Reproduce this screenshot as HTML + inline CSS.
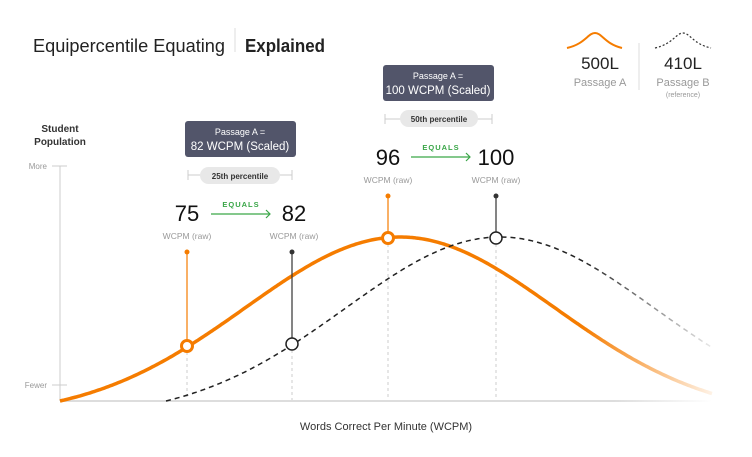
<!DOCTYPE html>
<html><head><meta charset="utf-8"><style>
html,body{margin:0;padding:0;background:#fff;}
svg{display:block;font-family:"Liberation Sans",sans-serif;}
</style></head><body>
<svg id="s" width="752" height="457" viewBox="0 0 752 457">
<defs>
<linearGradient id="og" x1="60" x2="712" gradientUnits="userSpaceOnUse">
<stop offset="0.8" stop-color="#f57c00"/><stop offset="1" stop-color="#f57c00" stop-opacity="0.1"/></linearGradient>
<linearGradient id="bg" x1="60" x2="712" gradientUnits="userSpaceOnUse">
<stop offset="0.8" stop-color="#222"/><stop offset="1" stop-color="#222" stop-opacity="0.1"/></linearGradient>
<linearGradient id="ag" x1="60" x2="712" gradientUnits="userSpaceOnUse">
<stop offset="0.85" stop-color="#ddd"/><stop offset="1" stop-color="#ddd" stop-opacity="0"/></linearGradient>
</defs>
<!-- title -->
<text x="33" y="52" font-size="18" fill="#222" textLength="192" lengthAdjust="spacingAndGlyphs">Equipercentile Equating</text>
<line x1="235" y1="28" x2="235" y2="52" stroke="#ddd"/>
<text x="245" y="52" font-size="18" font-weight="bold" fill="#222" textLength="80" lengthAdjust="spacingAndGlyphs">Explained</text>
<!-- legend -->
<path d="M567,48 C585,44 588,33 595,33 C602,33 605,44 622,48" fill="none" stroke="#f57c00" stroke-width="2"/>
<text x="600" y="69" font-size="17" text-anchor="middle" fill="#222">500L</text>
<text x="600" y="86" font-size="11" text-anchor="middle" fill="#999">Passage A</text>
<line x1="639" y1="43" x2="639" y2="90" stroke="#ddd"/>
<path d="M655,48 C673,44 676,33 683,33 C690,33 693,44 711,48" fill="none" stroke="#333" stroke-width="1.2" stroke-dasharray="2,2"/>
<text x="683" y="69" font-size="17" text-anchor="middle" fill="#222">410L</text>
<text x="683" y="86" font-size="11" text-anchor="middle" fill="#999">Passage B</text>
<text x="683" y="97" font-size="7" text-anchor="middle" fill="#999">(reference)</text>
<!-- y axis -->
<text x="60" y="132" font-size="10" font-weight="bold" text-anchor="middle" fill="#333">Student</text>
<text x="60" y="145" font-size="10" font-weight="bold" text-anchor="middle" fill="#333">Population</text>
<line x1="60" y1="166" x2="60" y2="401" stroke="#ddd" stroke-width="1.5"/>
<line x1="52" y1="166" x2="67" y2="166" stroke="#ccc"/>
<text x="47" y="169" font-size="8" text-anchor="end" fill="#999">More</text>
<line x1="52" y1="385" x2="67" y2="385" stroke="#ccc"/>
<text x="47" y="388" font-size="8" text-anchor="end" fill="#999">Fewer</text>
<line x1="60" y1="401" x2="712" y2="401" stroke="url(#ag)" stroke-width="2"/>
<text x="386" y="430" font-size="11" text-anchor="middle" fill="#333">Words Correct Per Minute (WCPM)</text>
<!-- guide lines -->
<g stroke="#ccc" stroke-dasharray="3,3">
<line x1="187" y1="352" x2="187" y2="400"/><line x1="292" y1="350" x2="292" y2="400"/>
<line x1="388" y1="244" x2="388" y2="400"/><line x1="496" y1="244" x2="496" y2="400"/>
</g>
<path id="oc" fill="none" stroke="url(#og)" stroke-width="3.5"/>
<path id="bc" fill="none" stroke="url(#bg)" stroke-width="1.5" stroke-dasharray="5,4"/>
<!-- stems -->
<line x1="187" y1="252" x2="187" y2="341" stroke="#f57c00" stroke-width="1.2"/><circle cx="187" cy="252" r="2.5" fill="#f57c00"/>
<line x1="292" y1="252" x2="292" y2="339" stroke="#333" stroke-width="1.2"/><circle cx="292" cy="252" r="2.5" fill="#333"/>
<line x1="388" y1="196" x2="388" y2="232" stroke="#f57c00" stroke-width="1.2"/><circle cx="388" cy="196" r="2.5" fill="#f57c00"/>
<line x1="496" y1="196" x2="496" y2="232" stroke="#333" stroke-width="1.2"/><circle cx="496" cy="196" r="2.5" fill="#333"/>
<circle cx="187" cy="346" r="5.5" fill="#fff" stroke="#f57c00" stroke-width="3"/>
<circle cx="388" cy="238" r="5.5" fill="#fff" stroke="#f57c00" stroke-width="3"/>
<circle cx="292" cy="344" r="6" fill="#fff" stroke="#222" stroke-width="1.5"/>
<circle cx="496" cy="238" r="6" fill="#fff" stroke="#222" stroke-width="1.5"/>
<!-- box 1 -->
<rect x="185" y="121" width="111" height="36" rx="3" fill="#52556a"/>
<text x="240" y="135" font-size="9" text-anchor="middle" fill="#fff">Passage A =</text>
<text x="240" y="150" font-size="11.5" text-anchor="middle" fill="#fff">82 WCPM (Scaled)</text>
<g stroke="#ccc"><line x1="188" y1="175" x2="292" y2="175"/><line x1="188" y1="170" x2="188" y2="180"/><line x1="292" y1="170" x2="292" y2="180"/></g>
<rect x="200" y="167" width="80" height="17" rx="8.5" fill="#e8e8e8"/>
<text x="240" y="179" font-size="8" font-weight="bold" text-anchor="middle" fill="#333">25th percentile</text>
<text x="187" y="221" font-size="22" text-anchor="middle" fill="#111">75</text>
<text x="294" y="221" font-size="22" text-anchor="middle" fill="#111">82</text>
<text x="241" y="207" font-size="7.5" font-weight="bold" letter-spacing="1" text-anchor="middle" fill="#3aa648">EQUALS</text>
<line x1="211" y1="214" x2="270" y2="214" stroke="#3aa648" stroke-width="1.2"/><path d="M266,210 L270,214 L266,218" fill="none" stroke="#3aa648" stroke-width="1.2"/>
<text x="187" y="239" font-size="8.5" text-anchor="middle" fill="#999">WCPM (raw)</text>
<text x="294" y="239" font-size="8.5" text-anchor="middle" fill="#999">WCPM (raw)</text>
<!-- box 2 -->
<rect x="383" y="65" width="111" height="36" rx="3" fill="#52556a"/>
<text x="438" y="79" font-size="9" text-anchor="middle" fill="#fff">Passage A =</text>
<text x="438" y="94" font-size="11.5" text-anchor="middle" fill="#fff">100 WCPM (Scaled)</text>
<g stroke="#ccc"><line x1="385" y1="119" x2="492" y2="119"/><line x1="385" y1="114" x2="385" y2="124"/><line x1="492" y1="114" x2="492" y2="124"/></g>
<rect x="400" y="110" width="78" height="17" rx="8.5" fill="#e8e8e8"/>
<text x="439" y="122" font-size="8" font-weight="bold" text-anchor="middle" fill="#333">50th percentile</text>
<text x="388" y="165" font-size="22" text-anchor="middle" fill="#111">96</text>
<text x="496" y="165" font-size="22" text-anchor="middle" fill="#111">100</text>
<text x="441" y="150" font-size="7.5" font-weight="bold" letter-spacing="1" text-anchor="middle" fill="#3aa648">EQUALS</text>
<line x1="411" y1="157" x2="470" y2="157" stroke="#3aa648" stroke-width="1.2"/><path d="M466,153 L470,157 L466,161" fill="none" stroke="#3aa648" stroke-width="1.2"/>
<text x="388" y="183" font-size="8.5" text-anchor="middle" fill="#999">WCPM (raw)</text>
<text x="496" y="183" font-size="8.5" text-anchor="middle" fill="#999">WCPM (raw)</text>
</svg>
<script>
function g(c,x0,x1,e){var s=155,h=164,d="";var ge=Math.exp(-e*e/(2*s*s));for(var x=x0;x<=x1;x+=2){var G=Math.exp(-(x-c)*(x-c)/(2*s*s));var f=(G-ge)/(1-ge);var y=401-h*f;d+=(x==x0?"M":"L")+x+","+y.toFixed(1);}return d;}
document.getElementById("oc").setAttribute("d",g(400,60,712,340));
document.getElementById("bc").setAttribute("d",g(500,166,712,334));
</script>
</body></html>
